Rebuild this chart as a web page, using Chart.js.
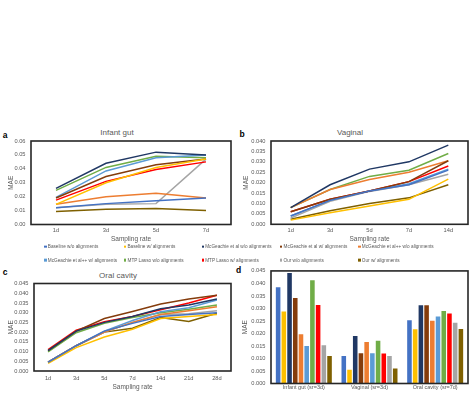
<!DOCTYPE html>
<html><head><meta charset="utf-8">
<script src="https://cdn.jsdelivr.net/npm/chart.js@4.4.0/dist/chart.umd.min.js"></script>
<style>
html,body{margin:0;padding:0;background:#fff;}
body{width:474px;height:397px;position:relative;overflow:hidden;font-family:"Liberation Sans",Arial,sans-serif;}
canvas{position:absolute;}
.t{position:absolute;color:#595959;white-space:nowrap;transform:translate(-50%,-50%);font-size:8px;line-height:1;}
.p{position:absolute;color:#000;font-weight:bold;font-size:8.5px;line-height:1;transform:translate(-50%,-50%);}
.lg{position:absolute;font-size:4.7px;color:#595959;white-space:nowrap;line-height:1;transform:translateY(-50%);}
.lg i{display:inline-block;width:2.3px;height:2.3px;margin-right:1.2px;vertical-align:middle;}
</style></head><body>
<div class="p" style="left:5px;top:134.7px">a</div>
<div class="p" style="left:242px;top:133.5px">b</div>
<div class="p" style="left:5px;top:272px">c</div>
<div class="p" style="left:238.7px;top:269.7px">d</div>
<div class="t" style="left:117px;top:133.3px">Infant gut</div>
<div class="t" style="left:350px;top:133.3px">Vaginal</div>
<div class="t" style="left:118px;top:276px">Oral cavity</div>
<canvas id="ca" width="240" height="117" style="left:0;top:128px"></canvas>
<canvas id="cb" width="238" height="117" style="left:236px;top:128px"></canvas>
<canvas id="cc" width="240" height="133" style="left:0;top:264px"></canvas>
<canvas id="cd" width="238" height="135" style="left:236px;top:262px"></canvas>
<div id="legend"></div>
<script>
// ---- data ----
const seriesNames = [
  'Baseline w/o alignments','Baseline w/ alignments',
  'McGeachie et al w/o alignments','McGeachie et al w/ alignments',
  'McGeachie et al++ w/o alignments','McGeachie et al++ w/ alignments',
  'MTP Lasso w/o alignments','MTP Lasso w/ alignments',
  'Our w/o alignments','Our w/ alignments'
];
const seriesColors = ['#4472C4','#FFC000','#203864','#843C0C','#ED7D31','#5B9BD5','#70AD47','#FF0000','#A5A5A5','#7F6000'];

const gutRates = ['1d','3d','5d','7d'];
const gutMAE = [
  [0.012, 0.015, 0.017, 0.019],
  [0.0145, 0.030, 0.041, 0.047],
  [0.026, 0.044, 0.052, 0.050],
  [0.019, 0.0345, 0.043, 0.047],
  [0.0145, 0.020, 0.0225, 0.019],
  [0.0195, 0.0385, 0.048, 0.050],
  [0.0245, 0.041, 0.049, 0.048],
  [0.0175, 0.031, 0.0395, 0.045],
  [0.012, 0.0145, 0.015, 0.047],
  [0.0093, 0.011, 0.0115, 0.010]
];
const gutTicks = {max:0.06, step:0.01, decimals:2};

const vaginalRates = ['1d','3d','5d','7d','14d'];
const vaginalMAE = [
  [0.004, 0.0115, 0.016, 0.019, 0.026],
  [0.002, 0.0055, 0.0088, 0.012, 0.0217],
  [0.008, 0.019, 0.0265, 0.030, 0.038],
  [0.006, 0.012, 0.016, 0.0205, 0.0305],
  [0.008, 0.0167, 0.0215, 0.025, 0.0305],
  [0.004, 0.0115, 0.016, 0.0195, 0.0265],
  [0.008, 0.0167, 0.023, 0.026, 0.034],
  [0.006, 0.012, 0.016, 0.0205, 0.028],
  [0.003, 0.011, 0.0158, 0.019, 0.024],
  [0.0024, 0.0065, 0.010, 0.0127, 0.019]
];
const vaginalTicks = {max:0.04, step:0.005, decimals:3};

const oralRates = ['1d','3d','5d','7d','14d','21d','28d'];
const oralMAE = [
  [0.0045, 0.013, 0.0205, 0.0245, 0.028, 0.029, 0.030],
  [0.004, 0.012, 0.0175, 0.0215, 0.027, 0.028, 0.029],
  [0.0105, 0.0205, 0.025, 0.028, 0.032, 0.034, 0.037],
  [0.0105, 0.0205, 0.027, 0.0306, 0.0345, 0.037, 0.039],
  [0.0045, 0.013, 0.020, 0.025, 0.029, 0.031, 0.033],
  [0.0045, 0.013, 0.0205, 0.026, 0.0305, 0.0325, 0.0365],
  [0.0098, 0.0197, 0.0246, 0.0275, 0.030, 0.0318, 0.034],
  [0.011, 0.021, 0.0254, 0.028, 0.0315, 0.035, 0.039],
  [0.0045, 0.013, 0.020, 0.025, 0.029, 0.0295, 0.031],
  [0.0045, 0.013, 0.020, 0.022, 0.0275, 0.0255, 0.0297]
];
const oralTicks = {max:0.045, step:0.005, decimals:3};

const barCategories = ['Infant gut (sr=3d)','Vaginal (sr=3d)','Oral cavity (sr=7d)'];
const barGut     = [0.0385, 0.0288, 0.0442, 0.0342, 0.0197, 0.015, 0.0413, 0.0314, 0.0153, 0.011];
const barVaginal = [0.011, 0.0055, 0.019, 0.0121, 0.0166, 0.0121, 0.0171, 0.012, 0.011, 0.006];
const barOral    = [0.0253, 0.0217, 0.0313, 0.0313, 0.0251, 0.0268, 0.029, 0.028, 0.0243, 0.0218];
const barTicks = {max:0.045, step:0.005, decimals:3};

// ---- rendering ----
const FF = '"Liberation Sans", Arial, sans-serif';
const TXT = '#595959';
const boxPlugin = {
  id:'box',
  afterDraw(chart){
    const {ctx, chartArea:a} = chart;
    ctx.save();
    ctx.strokeStyle = '#262626';
    ctx.lineWidth = 1.6;
    ctx.strokeRect(a.left, a.top, a.right - a.left, a.bottom - a.top);
    ctx.restore();
  }
};

function yScale(t, g){
  return {
    min:0, max:t.max,
    grid:{display:false, drawTicks:false}, border:{display:false},
    ticks:{stepSize:t.step, color:TXT, font:{family:FF,size:5.7}, padding:5.5, autoSkip:false,
           callback:v=>Number(v).toFixed(t.decimals)},
    title:{display:true, text:'MAE', color:TXT, font:{family:FF,size:6.5}, padding:{top:g.ytpad,bottom:0}},
    afterFit:s=>{s.width=g.yw;}
  };
}

function lineChart(id, labels, rows, t, g){
  new Chart(document.getElementById(id), {
    type:'line',
    data:{labels, datasets: rows.map((r,i)=>({
      label:seriesNames[i], data:r, borderColor:seriesColors[i], backgroundColor:seriesColors[i],
      borderWidth:1.5, pointRadius:0, tension:0, fill:false}))},
    options:{
      responsive:false, animation:false, events:[],
      layout:{padding:{top:g.top,right:g.right,left:0,bottom:0}},
      plugins:{legend:{display:false}, tooltip:{enabled:false}},
      scales:{
        x:{offset:true, grid:{display:false, drawTicks:false}, border:{display:false},
           ticks:{color:TXT, font:{family:FF,size:5.7}, padding:g.xpad, maxRotation:0, autoSkip:false},
           title:{display:true, text:'Sampling rate', color:TXT, font:{family:FF,size:6.5}, padding:{top:0,bottom:g.xtpad}},
           afterFit:s=>{s.height=g.xh;}},
        y:yScale(t, g)
      }
    },
    plugins:[boxPlugin]
  });
}

lineChart('ca', gutRates, gutMAE, gutTicks, {top:13,right:9,yw:31,xh:20.5,xpad:2.5,xtpad:2,ytpad:7.8});
lineChart('cb', vaginalRates, vaginalMAE, vaginalTicks, {top:13,right:6,yw:35,xh:20.7,xpad:2.5,xtpad:2,ytpad:6.8});
lineChart('cc', oralRates, oralMAE, oralTicks, {top:19.5,right:9,yw:34,xh:26,xpad:3.6,xtpad:6,ytpad:7.1});

new Chart(document.getElementById('cd'), {
  type:'bar',
  data:{labels:barCategories, datasets: seriesNames.map((n,i)=>({
    label:n, data:[barGut[i], barVaginal[i], barOral[i]], backgroundColor:seriesColors[i], borderWidth:0,
    categoryPercentage:0.87, barPercentage:0.8}))},
  options:{
    responsive:false, animation:false, events:[],
    layout:{padding:{top:7.5,right:6,left:0,bottom:0}},
    plugins:{legend:{display:false}, tooltip:{enabled:false}},
    scales:{
      x:{grid:{display:false, drawTicks:false}, border:{display:false},
         ticks:{color:TXT, font:{family:FF,size:5.5}, padding:1, maxRotation:0, autoSkip:false},
         afterFit:s=>{s.height=13.5;}},
      y:yScale(barTicks, {yw:35, ytpad:5.8})
    }
  },
  plugins:[boxPlugin]
});

// legend (HTML text)
const legendCols = [44.3, 124, 201.7, 280, 358.3];
const legendRows = [247.3, 260.7];
const lg = document.getElementById('legend');
seriesNames.forEach((n,i)=>{
  const d = document.createElement('div');
  d.className = 'lg';
  d.style.left = legendCols[i % 5] + 'px';
  d.style.top = legendRows[Math.floor(i / 5)] + 'px';
  d.innerHTML = '<i style="background:' + seriesColors[i] + '"></i>' + n;
  lg.appendChild(d);
});
</script>
</body></html>
